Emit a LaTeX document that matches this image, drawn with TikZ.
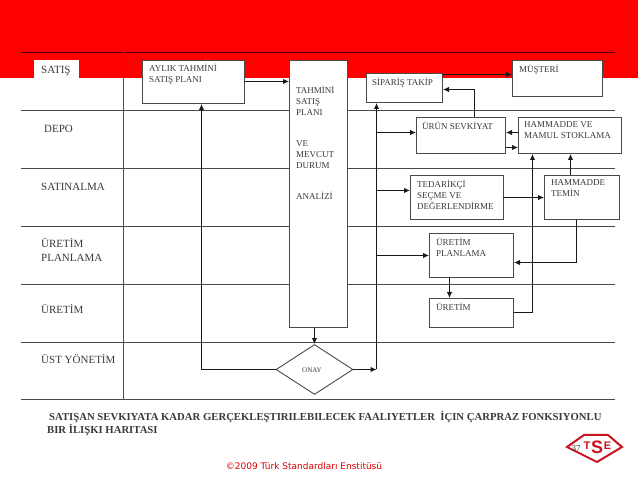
\documentclass[tikz,border=0pt]{standalone}
\usepackage{fontspec}
\setmainfont{Liberation Serif}
\newfontfamily\footfont{DejaVu Sans}
\newfontfamily\logofont{Liberation Sans}
\usetikzlibrary{arrows.meta,shapes.geometric,calc}
\definecolor{ink}{HTML}{3A3A3A}
\definecolor{rule}{HTML}{4A4A4A}
\definecolor{tsered}{HTML}{C8141E}
\tikzset{
  x=1pt,y=-1pt,
  lane/.style={draw=rule,line width=0.9pt},
  boxx/.style={draw=rule,fill=white,line width=1pt,anchor=north west,inner sep=0pt},
  lbl/.style={anchor=north west,inner sep=0pt,align=left,text=ink,font=\fontsize{9}{11}\selectfont},
  lanelbl/.style={anchor=north west,inner sep=0pt,align=left,text=ink,font=\fontsize{11}{14}\selectfont},
  conn/.style={draw=black!90,line width=1pt,-{Latex[length=6pt,width=5.5pt]}},
  plain/.style={draw=black!90,line width=1pt}
}
\begin{document}
\begin{tikzpicture}
\useasboundingbox (0,0) rectangle (638,478);
\fill[white] (0,0) rectangle (638,478);
\fill[red] (0,0) rectangle (638,78);
\fill[white] (34,60) rectangle (79,78);
% lanes
\draw[draw=black!70!red,line width=0.9pt] (21,52.5) -- (615,52.5);
\foreach \yy in {110.5,168.5,226.5,284.5,342.5,399.5}{\draw[lane] (21,\yy) -- (615,\yy);}
\draw[lane] (123.5,52.5) -- (123.5,399.5);
% lane labels
\node[lanelbl] (l1) at (41,66.5) {SATIŞ};
\node[lanelbl] (l2) at (44,125) {DEPO};
\node[lanelbl] (l3) at (41,183) {SATINALMA};
\node[lanelbl] (l4) at (41,238) {ÜRETİM\\PLANLAMA};
\node[lanelbl] (l5) at (41,304.5) {ÜRETİM};
\node[lanelbl] (l6) at (41,354.5) {ÜST YÖNETİM};
% boxes
\node[boxx,minimum width=102pt,minimum height=43pt] (ayl) at (142,60) {};
\node[boxx,minimum width=58pt,minimum height=267pt] (big) at (289,60) {};
\node[boxx,minimum width=76pt,minimum height=29pt] (sip) at (366,73) {};
\node[boxx,minimum width=90pt,minimum height=36pt] (mus) at (512,60) {};
\node[boxx,minimum width=89pt,minimum height=36pt] (urn) at (416,117) {};
\node[boxx,minimum width=103pt,minimum height=36pt] (ham) at (518,117) {};
\node[boxx,minimum width=93pt,minimum height=44pt] (ted) at (410,175) {};
\node[boxx,minimum width=75pt,minimum height=44pt] (tem) at (544,175) {};
\node[boxx,minimum width=84pt,minimum height=44pt] (pla) at (429,233) {};
\node[boxx,minimum width=84pt,minimum height=29pt] (ure) at (429,298) {};
\node[diamond,draw=rule,fill=white,line width=0.9pt,inner sep=0pt,minimum width=77pt,minimum height=50pt,aspect=1.54] (ony) at (314.5,369.5) {};
% box texts
\node[lbl] (t1) at (149,63.5) {AYLIK TAHMİNİ\\SATIŞ PLANI};
\node[lbl] (t2) at (296,86) {TAHMİNİ\\SATIŞ\\PLANI\\[20pt]VE\\MEVCUT\\DURUM\\[20pt]ANALİZİ};
\node[lbl] (t3) at (372,78) {SİPARİŞ TAKİP};
\node[lbl] (t4) at (519,65) {MÜŞTERİ};
\node[lbl] (t5) at (422,121.5) {ÜRÜN SEVKİYAT};
\node[lbl] (t6) at (524,121.5) {HAMMADDE VE\\MAMUL STOKLAMA};
\node[lbl] (t7) at (417,179.5) {TEDARİKÇİ\\SEÇME VE\\DEĞERLENDİRME};
\node[lbl] (t8) at (551,179.5) {HAMMADDE\\TEMİN};
\node[lbl] (t9) at (436,237.5) {ÜRETİM\\PLANLAMA};
\node[lbl] (t10) at (436,302.5) {ÜRETİM};
\node[lbl,font=\fontsize{7}{8}\selectfont,anchor=center] (t11) at (312,370) {ONAY};
% connector helpers
\coordinate (bus) at (376.5,369.5);
\coordinate (left) at (201.5,369.5);
\coordinate (ys) at (442,74.5);
\coordinate (ysb) at (474.5,89.5);
\coordinate (yb) at (244,81.5);
\coordinate (y1) at (376.5,132.5);
\coordinate (y2) at (376.5,190.5);
\coordinate (y3) at (376.5,255.5);
\coordinate (y4) at (518,147.5);
\coordinate (up) at (532.5,312.5);
\coordinate (dn) at (576.5,262.5);
\coordinate (td) at (503,197.5);
\coordinate (pl) at (449.5,277);
\coordinate (hm) at (570.5,175);
% connectors
\draw[conn] (ony.west) -- (left) -- (left |- ayl.south);
\draw[conn] (yb) -- (yb -| big.west);
\draw[conn] (big.south -| ony.north) -- (ony.north);
\draw[conn] (ony.east) -- (bus);
\draw[conn] (bus) -- (bus |- sip.south);
\draw[conn] (y1) -- (y1 -| urn.west);
\draw[conn] (y2) -- (y2 -| ted.west);
\draw[conn] (y3) -- (y3 -| pla.west);
\draw[conn] (ys) -- (ys -| mus.west);
\draw[conn] (ysb |- urn.north) -- (ysb) -- (ysb -| sip.east);
\draw[conn] (ham.west |- y1) -- (urn.east |- y1);
\draw[conn] (urn.east |- y4) -- (y4);
\draw[conn] (ure.east |- up) -- (up) -- (up |- ham.south);
\draw[conn] (hm) -- (hm |- ham.south);
\draw[conn] (td) -- (td -| tem.west);
\draw[plain] (dn |- tem.south) -- (dn);
\draw[conn] (dn) -- (dn -| pla.east);
\draw[conn] (pl) -- (pl |- ure.north);
% caption
\node[anchor=north west,inner sep=0pt,text=ink,font=\fontsize{10.7}{13}\bfseries\selectfont,align=left] (cap) at (49,411.5) {SATIŞAN SEVKIYATA KADAR GERÇEKLEŞTIRILEBILECEK FAALIYETLER\ \ İÇIN ÇARPRAZ FONKSIYONLU\\[0pt]\hspace*{-2pt}BIR İLIŞKI HARITASI};
\node[anchor=center,inner sep=0pt,text=red!85!black,font=\footfont\fontsize{9}{11}\selectfont] (foot) at (304,466) {©2009 Türk Standardları Enstitüsü};
% logo
\draw[tsered,line width=2pt,line join=miter] (567,447) -- (584,435) -- (608,435) -- (622,447) -- (597,462) -- cycle;
\node[inner sep=0pt,text=tsered,font=\logofont\bfseries\fontsize{11}{11}\selectfont] (lt) at (587,446) {T};
\node[inner sep=0pt,text=tsered,font=\logofont\bfseries\fontsize{18}{18}\selectfont] (ls) at (597,447) {S};
\node[inner sep=0pt,text=tsered,font=\logofont\bfseries\fontsize{11}{11}\selectfont] (le) at (607.5,446) {E};
\node[inner sep=0pt,text=ink,font=\fontsize{9}{9}\selectfont] (pg) at (576,449) {37};
\end{tikzpicture}
\end{document}
